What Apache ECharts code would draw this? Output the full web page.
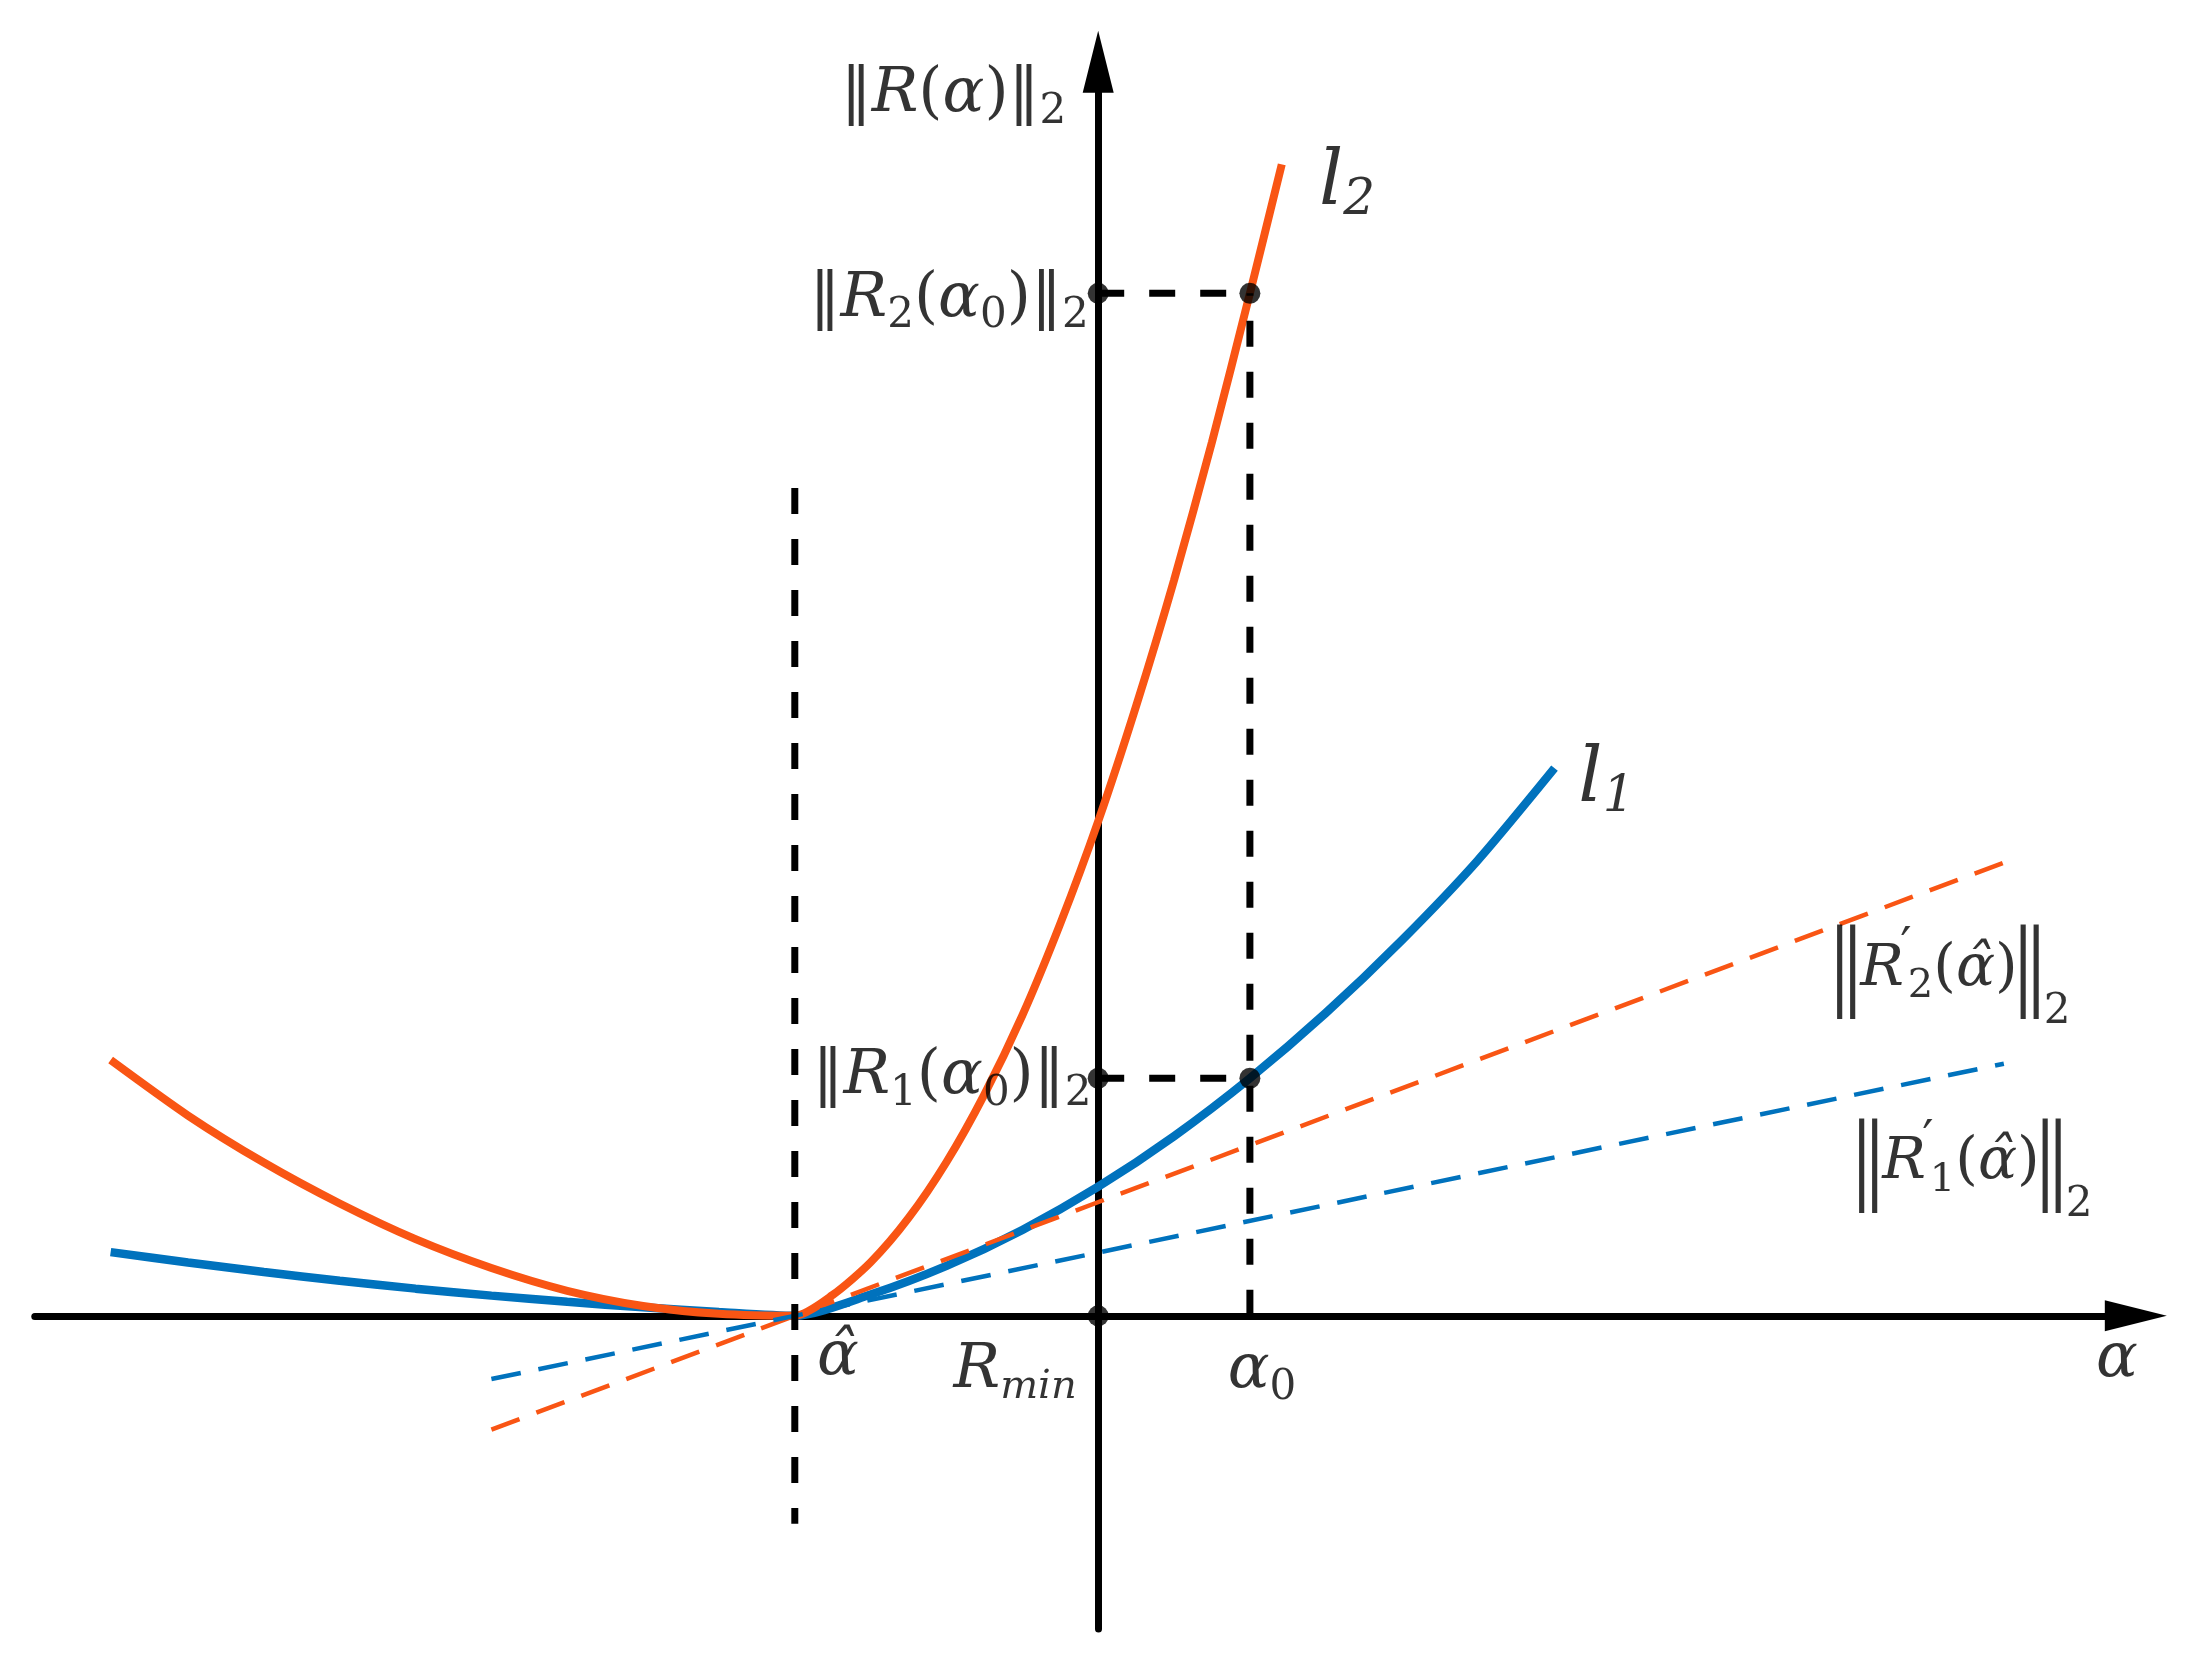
<!DOCTYPE html>
<html><head><meta charset="utf-8">
<script src="https://cdn.jsdelivr.net/npm/echarts@6/dist/echarts.min.js"></script>
<style>html,body{margin:0;padding:0;background:#fff}#c{width:2202px;height:1659px}</style>
</head><body><div id="c"></div>
<script>
// ---------- data (alpha, ||R(alpha)||_2) ----------
const alphaL2 = [-6.51,-6.0,-5.5,-5.0,-4.5,-4.0,-3.5,-3.0,-2.5,-2.0,-1.75,-1.5,-1.25,-1.0,-0.75,-0.5,-0.25,0.0,0.25,0.5,0.75,1.0,1.21];
const normL2  = [1.686,1.32,1.01,0.74,0.505,0.315,0.165,0.065,0.013,0.0,0.138,0.353,0.645,1.014,1.46,1.98,2.585,3.26,4.02,4.85,5.76,6.74,7.59];
const alphaL1 = [-6.51,-6.0,-5.5,-5.0,-4.5,-4.0,-3.5,-3.0,-2.5,-2.0,-1.5,-1.0,-0.5,0.0,0.5,1.0,1.5,2.0,2.5,3.008];
const normL1  = [0.42,0.351,0.289,0.231,0.179,0.133,0.092,0.056,0.025,0.0,0.14,0.329,0.566,0.851,1.184,1.566,1.996,2.474,3.0,3.61];
const tangentL2Alpha = [-4.0, 6.03];
const tangentL2Norm  = [-0.75, 3.01];
const tangentL1Alpha = [-4.0, 5.97];
const tangentL1Norm  = [-0.417, 1.662];
const alphaHat = -2.0;
const alpha0 = 1.0;
const r2AtAlpha0 = 6.74;
const r1AtAlpha0 = 1.566;
const hatLineRange = [-1.37, 5.457];
const xRange = [-7.01, 6.84];
const yRange = [-2.065, 8.267];

// label anchors (data coordinates) and texts
const labelAnchors = [
  [-0.954, 8.05, 'normR'],
  [1.64, 7.46, 'l2'],
  [-0.983, 6.70, 'r2a0'],
  [-0.964, 1.574, 'r1a0'],
  [3.35, 3.527, 'l1'],
  [5.63, 2.28, 'r2p'],
  [5.775, 1.005, 'r1p'],
  [-1.715, -0.278, 'ahat'],
  [-0.548, -0.363, 'rmin'],
  [1.08, -0.363, 'a0'],
  [6.716, -0.29, 'alpha']
];
const labelTexts = {
  normR: '{b|‖}{i|R}{n|(}{i|α}{n|)}{b|‖}{s|2}',
  l2: '{l|l}{ls|2}',
  r2a0: '{b|‖}{i|R}{s|2}{n|(}{i|α}{s|0}{n|)}{b|‖}{s|2}',
  r1a0: '{b|‖}{i|R}{s|1}{n|(}{i|α}{s|0}{n|)}{b|‖}{s|2}',
  l1: '{l|l}{ls|1}',
  r2p: '{P||}{Q||}{i2|R}{p|′}{s2|2}{n2|(}{i2|α̂}{n2|)}{P||}{Q||}{sB|2}',
  r1p: '{P||}{Q||}{i2|R}{p|′}{s2|1}{n2|(}{i2|α̂}{n2|)}{P||}{Q||}{sB|2}',
  ahat: '{i|α̂}',
  rmin: '{i|R}{sm|min}',
  a0: '{i|α}{s|0}',
  alpha: '{i|α}'
};

// ---------- layout ----------
const U = 151.7, OX = 1098.2, OY = 1315.8;
const F = "DejaVu Serif";
const FB = "Liberation Serif";
const ORANGE = '#F95514', BLUE = '#0072BD';

const zip = (a, b) => a.map((v, i) => [v, b[i]]);
const rich = {
  b:  {fontFamily: F, fontSize: 62, lineHeight: 68, color: '#000'},
  n:  {fontFamily: F, fontSize: 62, lineHeight: 68, color: '#000'},
  i:  {fontFamily: F, fontSize: 62, lineHeight: 68, fontStyle: 'italic', color: '#000'},
  n2: {fontFamily: F, fontSize: 58, lineHeight: 68, color: '#000'},
  i2: {fontFamily: F, fontSize: 58, lineHeight: 68, fontStyle: 'italic', color: '#000'},
  s:  {fontFamily: F, fontSize: 42, lineHeight: 36, padding: [34, 0, 0, 0], color: '#000'},
  s2: {fontFamily: F, fontSize: 40, lineHeight: 36, padding: [34, 0, 0, 0], color: '#000'},
  sm: {fontFamily: F, fontSize: 40, lineHeight: 36, padding: [34, 0, 0, 0], fontStyle: 'italic', color: '#000'},
  p:  {fontFamily: F, fontSize: 50, lineHeight: 36, padding: [0, 0, 40, 0], width: 4, color: '#000'},
  P:  {fontFamily: FB, fontSize: 104, lineHeight: 112, width: 11, color: '#000'},
  Q:  {fontFamily: FB, fontSize: 104, lineHeight: 112, width: 15, color: '#000'},
  sB: {fontFamily: F, fontSize: 42, lineHeight: 36, padding: [84, 0, 0, 0], color: '#000'},
  l:  {fontFamily: F, fontSize: 76, lineHeight: 80, fontStyle: 'italic', color: '#000'},
  ls: {fontFamily: F, fontSize: 50, lineHeight: 46, padding: [34, 0, 0, 0], fontStyle: 'italic', color: '#000'}
};

const dashBlack = (data) => ({
  type: 'line', data, showSymbol: false, silent: true, z: 5,
  lineStyle: {color: '#000', width: 7, type: [26, 25]}
});

const option = {
  backgroundColor: '#fff',
  animation: false,
  grid: {
    left: OX + xRange[0] * U,
    width: (xRange[1] - xRange[0]) * U,
    top: OY - yRange[1] * U,
    height: (yRange[1] - yRange[0]) * U,
    containLabel: false,
    outerBoundsMode: 'none'
  },
  xAxis: {
    type: 'value', min: xRange[0], max: xRange[1],
    axisLine: {show: true, onZero: true, lineStyle: {color: '#000', width: 7},
      symbol: ['none', 'path://M15,0 L30,60 L0,60 Z'], symbolSize: [31, 62]},
    axisTick: {show: false}, axisLabel: {show: false}, splitLine: {show: false}
  },
  yAxis: {
    type: 'value', min: yRange[0], max: yRange[1],
    axisLine: {show: true, onZero: true, lineStyle: {color: '#000', width: 7},
      symbol: ['none', 'path://M15,0 L30,60 L0,60 Z'], symbolSize: [31, 62]},
    axisTick: {show: false}, axisLabel: {show: false}, splitLine: {show: false}
  },
  series: [
    {type: 'line', data: zip(alphaL1, normL1), showSymbol: false, smooth: 0.25, silent: true, z: 2,
     lineStyle: {color: BLUE, width: 8.5, cap: 'butt'}},
    {type: 'line', data: zip(alphaL2, normL2), showSymbol: false, smooth: 0.25, silent: true, z: 3,
     lineStyle: {color: ORANGE, width: 8, cap: 'butt'}},
    {type: 'line', data: zip(tangentL2Alpha, tangentL2Norm), showSymbol: false, silent: true, z: 4,
     lineStyle: {color: ORANGE, width: 4.5, type: [30, 18]}},
    {type: 'line', data: zip(tangentL1Alpha, tangentL1Norm), showSymbol: false, silent: true, z: 4,
     lineStyle: {color: BLUE, width: 4.5, type: [30, 18]}},
    dashBlack([[alphaHat, hatLineRange[1]], [alphaHat, hatLineRange[0]]]),
    dashBlack([[alpha0, 0], [alpha0, r2AtAlpha0]]),
    dashBlack([[0, r2AtAlpha0], [alpha0, r2AtAlpha0]]),
    dashBlack([[0, r1AtAlpha0], [alpha0, r1AtAlpha0]]),
    {type: 'scatter', silent: true, z: 8, symbol: 'circle', symbolSize: 21,
     itemStyle: {color: '#000'},
     data: [[0, r2AtAlpha0], [alpha0, r2AtAlpha0], [0, r1AtAlpha0], [alpha0, r1AtAlpha0], [0, 0]]},
    {type: 'scatter', silent: true, z: 9, symbol: 'circle', symbolSize: 1,
     itemStyle: {color: 'rgba(0,0,0,0)'},
     data: labelAnchors.map(a => ({value: [a[0], a[1]], key: a[2]})),
     label: {show: true, position: 'inside', align: 'center', verticalAlign: 'middle', color: '#000',
       formatter: p => labelTexts[p.data.key], rich}}
  ]
};
const chart = echarts.init(document.getElementById('c'), null, {renderer: 'canvas'});
chart.setOption(option);
</script></body></html>
